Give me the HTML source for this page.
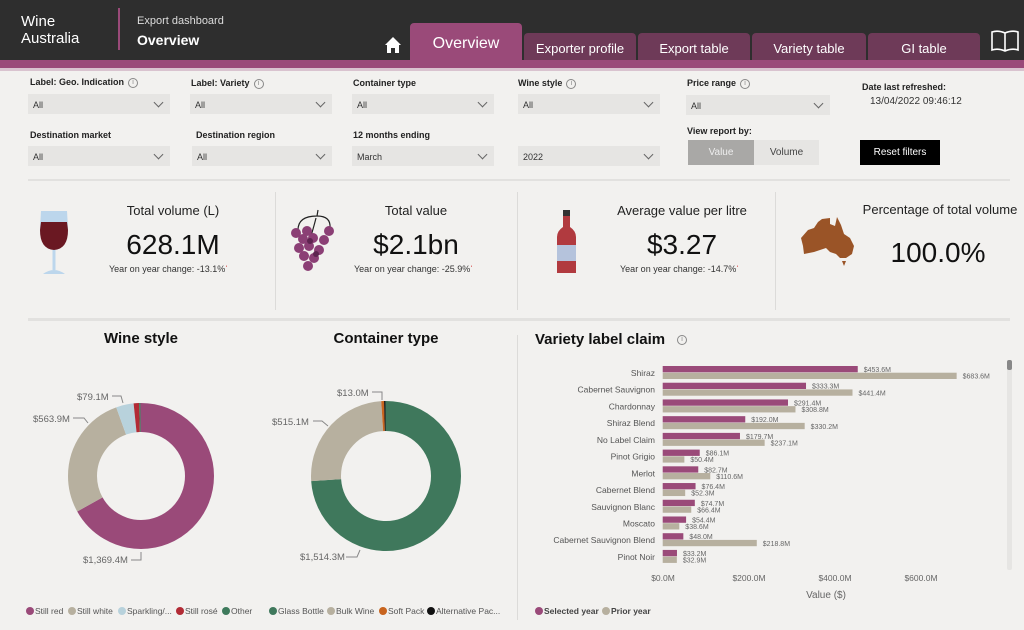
<!DOCTYPE html>
<html><head><meta charset="utf-8"><style>
*{margin:0;padding:0;box-sizing:border-box}
body{width:1024px;height:630px;overflow:hidden;background:#f2f1ef;font-family:"Liberation Sans",sans-serif;position:relative;color:#222}
.a{position:absolute;white-space:nowrap}
.lbl{font-size:9px;font-weight:bold;color:#222}
.dd{position:absolute;height:20px;background:#e6e5e3;font-size:9px;color:#333;padding:6px 0 0 5px}
.dd:after{content:"";position:absolute;right:8px;top:5px;width:6px;height:6px;border-right:1px solid #666;border-bottom:1px solid #666;transform:rotate(45deg)}
.tab{position:absolute;top:33px;height:27px;background:#6e3a58;color:#fff;font-size:13px;text-align:center;padding-top:8px;border-radius:4px 4px 0 0}
.info{display:inline-block;width:10px;height:10px;border:1px solid #888;border-radius:50%;font-size:7px;text-align:center;line-height:8px;color:#888;font-weight:normal;margin-left:4px;vertical-align:middle}
.kt{font-size:13px;color:#222;text-align:center}
.kv{font-size:28px;color:#111;text-align:center}
.ky{font-size:9px;color:#333}
</style></head><body>
<div class="a" style="left:0;top:0;width:1024px;height:60px;background:#2e2e2e"></div>
<div class="a" style="left:0;top:60px;width:1024px;height:8px;background:#9a4a79"></div>
<div class="a" style="left:0;top:68px;width:1024px;height:3px;background:#d9c3cf"></div>
<div class="a" style="left:21px;top:13px;color:#fff;font-size:15px;line-height:17px">Wine<br>Australia</div>
<div class="a" style="left:118px;top:8px;width:2px;height:42px;background:#9a4a79"></div>
<div class="a" style="left:137px;top:15px;color:#ddd;font-size:11px">Export dashboard</div>
<div class="a" style="left:137px;top:32px;color:#fff;font-size:14px;font-weight:bold">Overview</div>
<svg class="a" style="left:384px;top:36px" width="18" height="18" viewBox="0 0 18 18"><path d="M9 1 L17 9 L15 9 L15 17 L11 17 L11 12 L7 12 L7 17 L3 17 L3 9 L1 9Z" fill="#fff"/></svg>
<div class="tab" style="left:410px;top:23px;width:112px;height:37px;background:#9a4a79;font-size:16px;padding-top:12px">Overview</div>
<div class="tab" style="left:524px;width:112px">Exporter profile</div>
<div class="tab" style="left:638px;width:112px">Export table</div>
<div class="tab" style="left:752px;width:114px">Variety table</div>
<div class="tab" style="left:868px;width:112px">GI table</div>
<svg class="a" style="left:990px;top:29px" width="30" height="24" viewBox="0 0 30 24"><path d="M2 3 Q8 1 15 4 Q22 1 28 3 L28 21 Q22 19 15 22 Q8 19 2 21Z M15 4 L15 22" fill="none" stroke="#fff" stroke-width="1.6"/></svg>

<div class="a lbl" style="left:30px;top:77px">Label: Geo. Indication<span class="info">i</span></div>
<div class="a lbl" style="left:191px;top:78px">Label: Variety<span class="info">i</span></div>
<div class="a lbl" style="left:353px;top:78px">Container type</div>
<div class="a lbl" style="left:518px;top:78px">Wine style<span class="info">i</span></div>
<div class="a lbl" style="left:687px;top:78px">Price range<span class="info">i</span></div>
<div class="a lbl" style="left:862px;top:82px">Date last refreshed:</div>
<div class="a" style="left:870px;top:96px;font-size:10px;color:#333">13/04/2022 09:46:12</div>
<div class="dd" style="left:28px;top:94px;width:142px">All</div>
<div class="dd" style="left:190px;top:94px;width:142px">All</div>
<div class="dd" style="left:352px;top:94px;width:142px">All</div>
<div class="dd" style="left:518px;top:94px;width:142px">All</div>
<div class="dd" style="left:686px;top:95px;width:144px">All</div>
<div class="a lbl" style="left:30px;top:130px">Destination market</div>
<div class="a lbl" style="left:196px;top:130px">Destination region</div>
<div class="a lbl" style="left:353px;top:130px">12 months ending</div>
<div class="a lbl" style="left:687px;top:126px">View report by:</div>
<div class="dd" style="left:28px;top:146px;width:142px">All</div>
<div class="dd" style="left:192px;top:146px;width:140px">All</div>
<div class="dd" style="left:352px;top:146px;width:142px">March</div>
<div class="dd" style="left:518px;top:146px;width:142px">2022</div>
<div class="a" style="left:688px;top:140px;width:66px;height:25px;background:#a9a8a6;color:#eee;font-size:10px;text-align:center;padding-top:7px">Value</div>
<div class="a" style="left:754px;top:140px;width:65px;height:25px;background:#e6e5e3;color:#444;font-size:10px;text-align:center;padding-top:7px">Volume</div>
<div class="a" style="left:860px;top:140px;width:80px;height:25px;background:#000;color:#fff;font-size:10px;text-align:center;padding-top:7px">Reset filters</div>

<div class="a" style="left:28px;top:179px;width:982px;height:2px;background:#e2e1df"></div>
<div class="a" style="left:28px;top:318px;width:982px;height:3px;background:#e2e1df"></div>
<div class="a" style="left:275px;top:192px;width:1px;height:118px;background:#dcdbd9"></div>
<div class="a" style="left:517px;top:192px;width:1px;height:118px;background:#dcdbd9"></div>
<div class="a" style="left:775px;top:192px;width:1px;height:118px;background:#dcdbd9"></div>
<div class="a" style="left:517px;top:335px;width:1px;height:285px;background:#dcdbd9"></div>

<!-- KPI icons -->
<svg class="a" style="left:36px;top:208px" width="36" height="68" viewBox="0 0 36 68"><path d="M5 3 L31 3 L32 20 Q32 41 18 42 Q4 41 4 20Z" fill="#bcd6ec"/><path d="M5 14 L31 14 L32 22 Q32 41 18 42 Q4 41 4 22Z" fill="#6a1822"/><rect x="16.5" y="42" width="3" height="20" fill="#bcd6ec"/><path d="M7 66 Q18 58 29 66Z" fill="#bcd6ec"/></svg>
<svg class="a" style="left:286px;top:208px" width="60" height="66" viewBox="0 0 60 66"><path d="M32 2 L31 8 M12 22 Q12 8 31 8 Q45 8 44 20 M30 10 Q28 18 25 28" stroke="#222" stroke-width="1.2" fill="none"/><g fill="#8b3f75"><circle cx="10" cy="25" r="5"/><circle cx="21" cy="23" r="5"/><circle cx="43" cy="23" r="5"/><circle cx="17" cy="31" r="5"/><circle cx="27" cy="30" r="5"/><circle cx="38" cy="32" r="5"/><circle cx="13" cy="40" r="5"/><circle cx="23" cy="38" r="5"/><circle cx="33" cy="42" r="5"/><circle cx="18" cy="48" r="5"/><circle cx="28" cy="50" r="5"/><circle cx="22" cy="58" r="5"/></g><g fill="#5e2550"><circle cx="24" cy="33" r="3"/><circle cx="30" cy="46" r="3"/></g></svg>
<svg class="a" style="left:556px;top:209px" width="22" height="66" viewBox="0 0 22 66"><rect x="7" y="1" width="7" height="6" fill="#333"/><path d="M7 7 L14 7 L14 18 Q20 22 20 28 L20 64 L1 64 L1 28 Q1 22 7 18Z" fill="#b13a3f"/><rect x="1" y="36" width="19" height="16" fill="#b5c3dc"/></svg>
<svg class="a" style="left:800px;top:216px" width="58" height="50" viewBox="0 0 58 50"><path d="M22 3 L30 2 L30 8 L35 10 L37 1 L41 9 L44 18 L50 22 L54 30 L52 38 L46 42 L40 42 L36 38 L30 36 L26 32 L14 36 L4 38 L3 30 L1 22 L8 14 L14 12 L18 6Z" fill="#9a5427"/><path d="M42 45 L46 45 L44 50Z" fill="#9a5427"/></svg>

<div class="a kt" style="left:93px;top:203px;width:160px">Total volume (L)</div>
<div class="a kv" style="left:93px;top:229px;width:160px">628.1M</div>
<div class="a ky" style="left:109px;top:264px">Year on year change: -13.1%<span style="color:#c00">ˈ</span></div>
<div class="a kt" style="left:336px;top:203px;width:160px">Total value</div>
<div class="a kv" style="left:336px;top:229px;width:160px">$2.1bn</div>
<div class="a ky" style="left:354px;top:264px">Year on year change: -25.9%<span style="color:#c00">ˈ</span></div>
<div class="a kt" style="left:602px;top:203px;width:160px">Average value per litre</div>
<div class="a kv" style="left:602px;top:229px;width:160px">$3.27</div>
<div class="a ky" style="left:620px;top:264px">Year on year change: -14.7%<span style="color:#c00">ˈ</span></div>
<div class="a kt" style="left:860px;top:202px;width:160px">Percentage of total volume</div>
<div class="a kv" style="left:858px;top:237px;width:160px">100.0%</div>

<!-- donuts -->
<div class="a" style="left:60px;top:330px;width:162px;text-align:center;font-size:15px;font-weight:bold;color:#111">Wine style</div>
<div class="a" style="left:305px;top:330px;width:162px;text-align:center;font-size:15px;font-weight:bold;color:#111">Container type</div>
<svg class="a" style="left:0;top:320px" width="520" height="310">
<g transform="rotate(-90 141 156)" fill="none" stroke-width="29">
<circle cx="141" cy="156" r="58.5" pathLength="1000" stroke="#9a4a79" stroke-dasharray="670 330"/>
<circle cx="141" cy="156" r="58.5" pathLength="1000" stroke="#b7b09f" stroke-dasharray="0 670 276 54"/>
<circle cx="141" cy="156" r="58.5" pathLength="1000" stroke="#b8d2dc" stroke-dasharray="0 946 39 15"/>
<circle cx="141" cy="156" r="58.5" pathLength="1000" stroke="#b22b35" stroke-dasharray="0 985 12 3"/>
<circle cx="141" cy="156" r="58.5" pathLength="1000" stroke="#3e7a5c" stroke-dasharray="0 997 3 0"/>
</g>
<g transform="rotate(-90 386 156)" fill="none" stroke-width="30">
<circle cx="386" cy="156" r="60" pathLength="1000" stroke="#3f785c" stroke-dasharray="740 260"/>
<circle cx="386" cy="156" r="60" pathLength="1000" stroke="#b7b09f" stroke-dasharray="0 740 251 9"/>
<circle cx="386" cy="156" r="60" pathLength="1000" stroke="#c8641e" stroke-dasharray="0 991 6 3"/>
<circle cx="386" cy="156" r="60" pathLength="1000" stroke="#111" stroke-dasharray="0 997 3 0"/>
</g>
<g font-size="9.5" fill="#666" font-family="Liberation Sans,sans-serif">
<text x="77" y="80">$79.1M</text><path d="M112 76 L121 76 L123 83" stroke="#888" fill="none"/>
<text x="33" y="102">$563.9M</text><path d="M73 98 L84 98 L88 103" stroke="#888" fill="none"/>
<text x="83" y="243">$1,369.4M</text><path d="M131 240 L141 240 L141 232" stroke="#888" fill="none"/>
<text x="337" y="76">$13.0M</text><path d="M372 72 L382 72 L382 80" stroke="#888" fill="none"/>
<text x="272" y="105">$515.1M</text><path d="M313 101 L322 101 L328 106" stroke="#888" fill="none"/>
<text x="300" y="240">$1,514.3M</text><path d="M346 237 L357 237 L360 230" stroke="#888" fill="none"/>
</g>
<g font-size="8.5" fill="#555" font-family="Liberation Sans,sans-serif">
<circle cx="30" cy="291" r="4" fill="#9a4a79"/><text x="35" y="294">Still red</text>
<circle cx="72" cy="291" r="4" fill="#b7b09f"/><text x="77" y="294">Still white</text>
<circle cx="122" cy="291" r="4" fill="#b8d2dc"/><text x="127" y="294">Sparkling/...</text>
<circle cx="180" cy="291" r="4" fill="#b22b35"/><text x="185" y="294">Still rosé</text>
<circle cx="226" cy="291" r="4" fill="#3e7a5c"/><text x="231" y="294">Other</text>
<circle cx="273" cy="291" r="4" fill="#3f785c"/><text x="278" y="294">Glass Bottle</text>
<circle cx="331" cy="291" r="4" fill="#b7b09f"/><text x="336" y="294">Bulk Wine</text>
<circle cx="383" cy="291" r="4" fill="#c8641e"/><text x="388" y="294">Soft Pack</text>
<circle cx="431" cy="291" r="4" fill="#111"/><text x="436" y="294">Alternative Pac...</text>
</g>
</svg>

<!-- bar chart -->
<div class="a" style="left:535px;top:331px;font-size:15px;font-weight:bold;color:#111">Variety label claim<span class="info" style="margin-left:12px">i</span></div>
<svg class="a" style="left:520px;top:350px" width="504" height="280" font-family="Liberation Sans,sans-serif">
<rect x="487" y="10" width="5" height="210" rx="2" fill="#e6e5e3"/><rect x="487" y="10" width="5" height="10" rx="2" fill="#888"/>
<g id="bars"></g>
<g font-size="8.5" fill="#666" text-anchor="middle">
<text x="143" y="231">$0.0M</text><text x="229" y="231">$200.0M</text><text x="315" y="231">$400.0M</text><text x="401" y="231">$600.0M</text>
<text x="306" y="248" font-size="10">Value ($)</text></g>
<g font-size="8.5" fill="#444" font-weight="bold"><circle cx="19" cy="261" r="4" fill="#9a4a79"/><text x="24" y="264">Selected year</text><circle cx="86" cy="261" r="4" fill="#b7b09f"/><text x="91" y="264">Prior year</text></g>
</svg>
<script>
var d=[["Shiraz",453.6,683.6],["Cabernet Sauvignon",333.3,441.4],["Chardonnay",291.4,308.8],["Shiraz Blend",192.0,330.2],["No Label Claim",179.7,237.1],["Pinot Grigio",86.1,50.4],["Merlot",82.7,110.6],["Cabernet Blend",76.4,52.3],["Sauvignon Blanc",74.7,66.4],["Moscato",54.4,38.6],["Cabernet Sauvignon Blend",48.0,218.8],["Pinot Noir",33.2,32.9]];
var s="",x0=142.7,k=0.43;
d.forEach(function(r,i){var y=16+16.72*i;var w1=r[1]*k,w2=r[2]*k;
s+='<text x="135" y="'+(y+10)+'" font-size="8.5" fill="#555" text-anchor="end">'+r[0]+'</text>';
s+='<rect x="'+x0+'" y="'+y+'" width="'+w1+'" height="6.3" fill="#9a4a79"/>';
s+='<rect x="'+x0+'" y="'+(y+6.7)+'" width="'+w2+'" height="6.3" fill="#b7b09f"/>';
s+='<text x="'+(x0+w1+6)+'" y="'+(y+6)+'" font-size="7" fill="#666">$'+r[1].toFixed(1)+'M</text>';
s+='<text x="'+(x0+w2+6)+'" y="'+(y+12.6)+'" font-size="7" fill="#666">$'+r[2].toFixed(1)+'M</text>';});
document.getElementById("bars").innerHTML=s;
</script>
</body></html>
